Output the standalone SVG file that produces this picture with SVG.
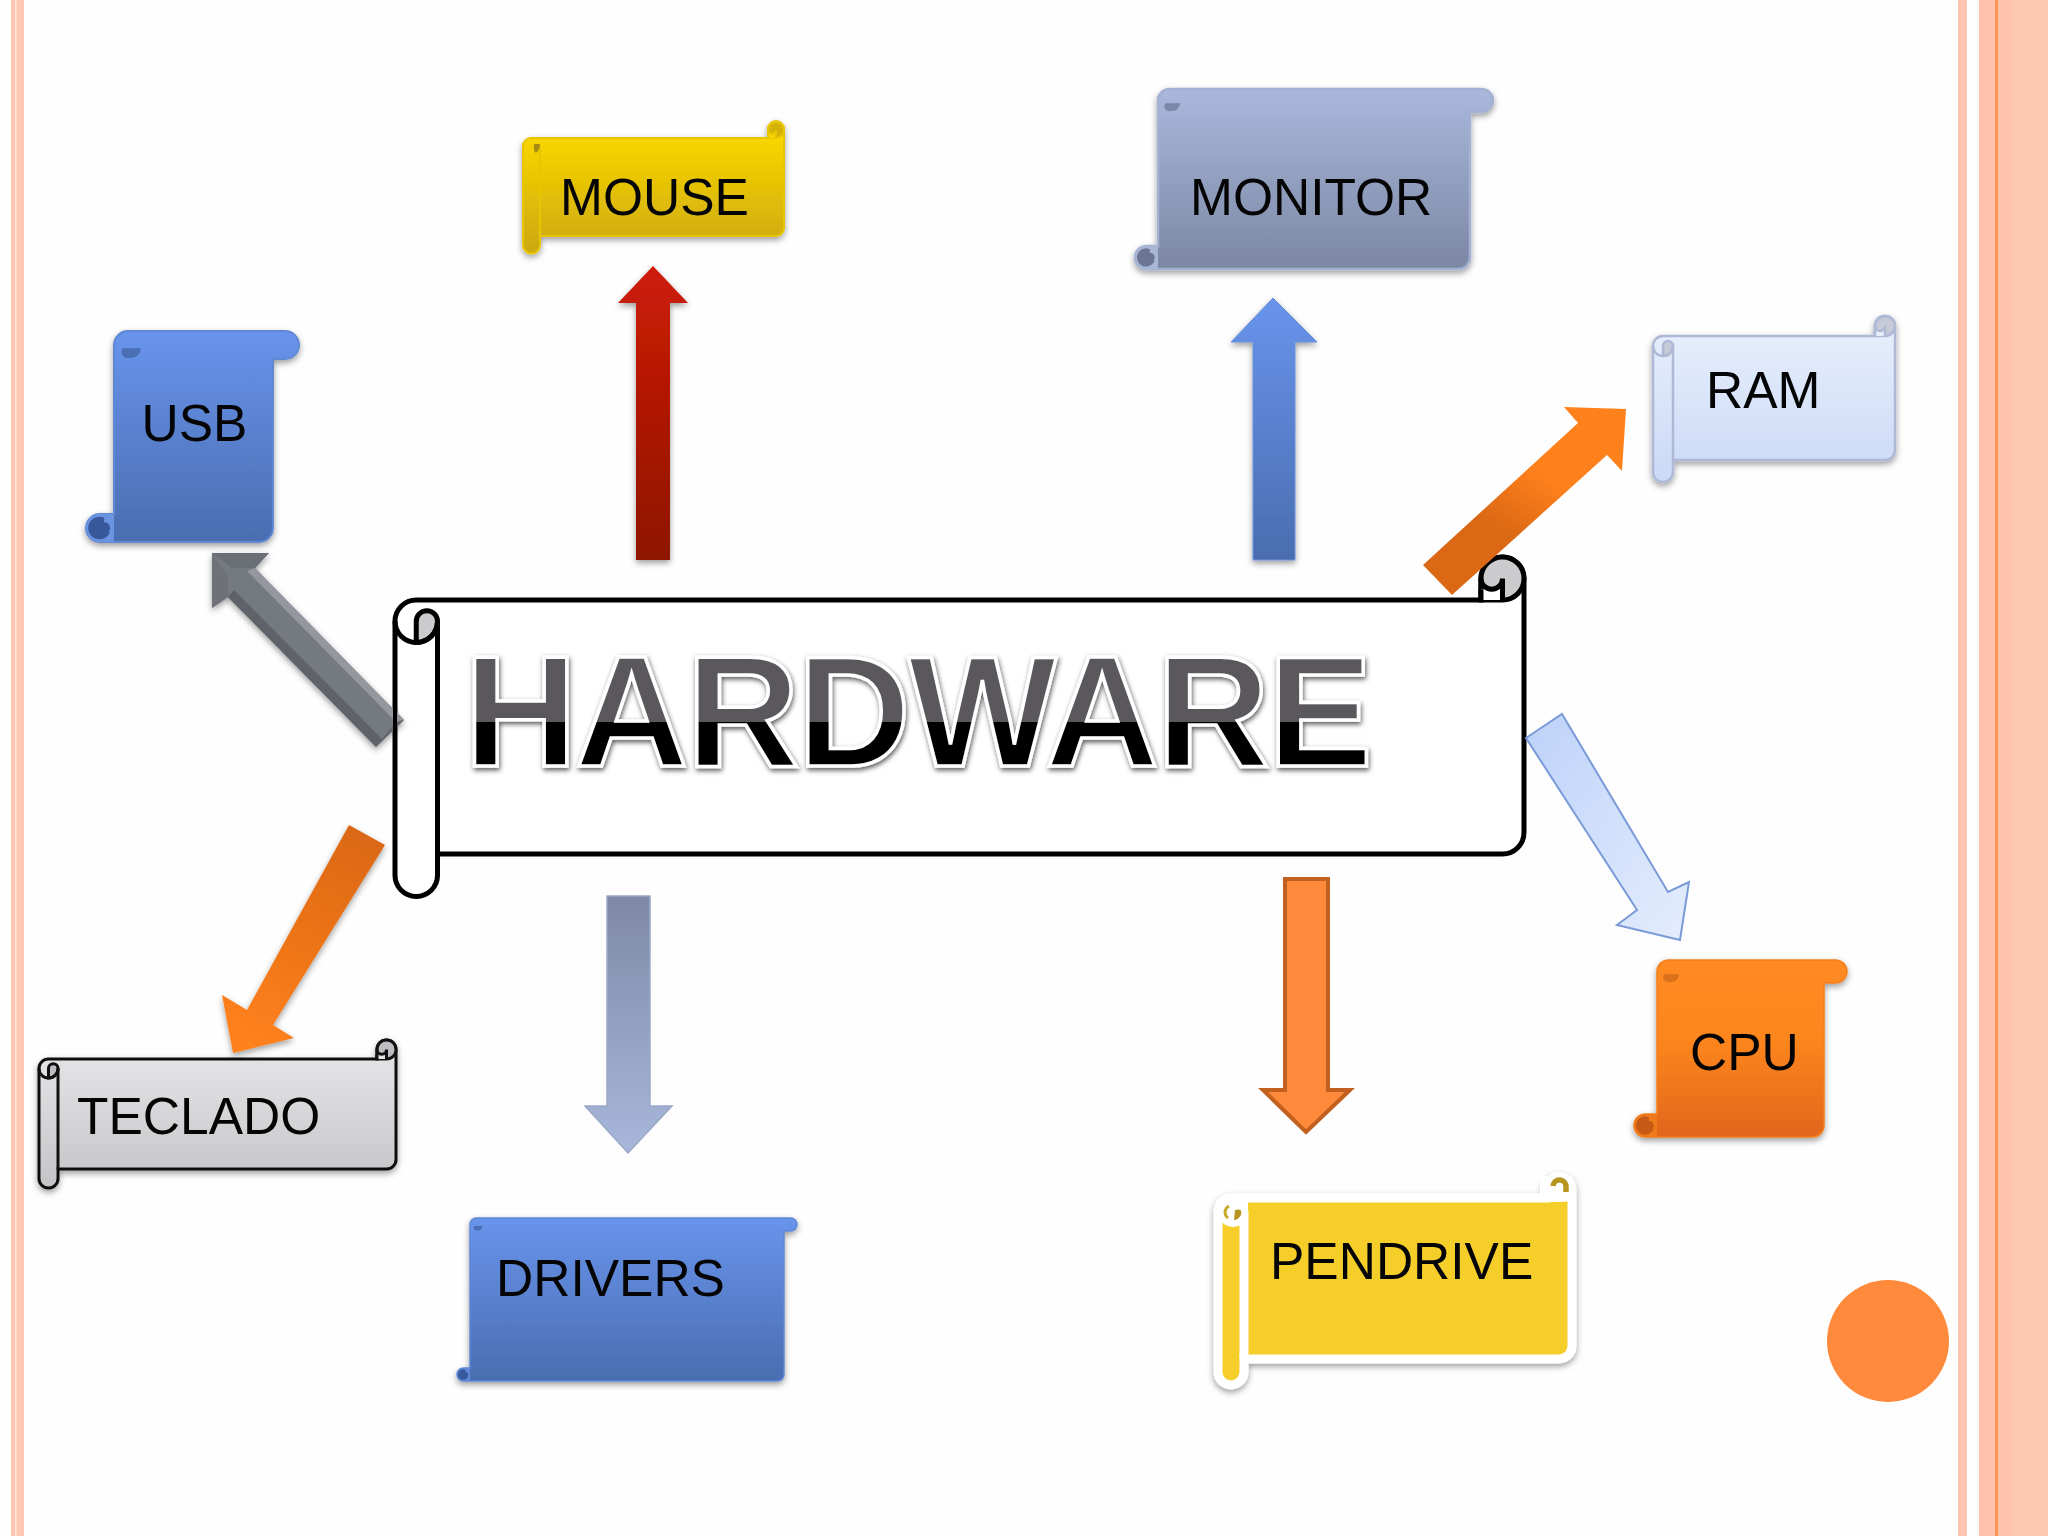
<svg xmlns="http://www.w3.org/2000/svg" width="2048" height="1536" viewBox="0 0 2048 1536">
<style>
.t{font-family:"Liberation Sans",Arial,sans-serif;font-size:51.5px;fill:#050505}
.v{vector-effect:non-scaling-stroke}
.s{filter:url(#sh)}
.lnk{fill:none;vector-effect:non-scaling-stroke}
.blue{stroke:#5F88D6;stroke-width:2}
</style>
<defs>
<filter id="sh" x="-20%" y="-20%" width="140%" height="140%"><feDropShadow dx="0" dy="3" stdDeviation="3" flood-color="#000" flood-opacity=".38"/></filter>
<filter id="tsh" x="-5%" y="-10%" width="110%" height="125%"><feDropShadow dx="1" dy="2.5" stdDeviation="2.5" flood-color="#000" flood-opacity=".65"/></filter>
<linearGradient id="gUsb" x1="0" y1="0" x2="0" y2="1"><stop offset="0" stop-color="#6894EC"/><stop offset="1" stop-color="#4A6DB0"/></linearGradient>
<linearGradient id="gMon" x1="0" y1="0" x2="0" y2="1"><stop offset="0" stop-color="#A9B8DC"/><stop offset="1" stop-color="#7B87A3"/></linearGradient>
<linearGradient id="gCpu" x1="0" y1="0" x2="0" y2="1"><stop offset="0" stop-color="#FF8A20"/><stop offset=".45" stop-color="#FC861F"/><stop offset="1" stop-color="#E2661A"/></linearGradient>
<linearGradient id="gMou" x1="0" y1="0" x2="0" y2="1"><stop offset="0" stop-color="#FFDC00"/><stop offset="1" stop-color="#CBA80C"/></linearGradient>
<linearGradient id="gRam" x1="0" y1="0" x2="0" y2="1"><stop offset="0" stop-color="#E9F0FD"/><stop offset="1" stop-color="#CAD9F6"/></linearGradient>
<linearGradient id="gTec" x1="0" y1="0" x2="0" y2="1"><stop offset="0" stop-color="#E8E7EA"/><stop offset="1" stop-color="#C4C4C7"/></linearGradient>
<linearGradient id="gRed" x1="0" y1="0" x2="0" y2="1"><stop offset="0" stop-color="#CE1C08"/><stop offset="1" stop-color="#8E1400"/></linearGradient>
<linearGradient id="gDrv" x1="0" y1="0" x2="0" y2="1"><stop offset="0" stop-color="#7D89A6"/><stop offset="1" stop-color="#A8B7DA"/></linearGradient>
<linearGradient id="gOrR" gradientUnits="userSpaceOnUse" x1="1540" y1="470" x2="1500" y2="530"><stop offset="0" stop-color="#FF811C"/><stop offset="1" stop-color="#DB6814"/></linearGradient>
<linearGradient id="gOrT" gradientUnits="userSpaceOnUse" x1="350" y1="830" x2="240" y2="1040"><stop offset="0" stop-color="#DB6814"/><stop offset="1" stop-color="#FF811C"/></linearGradient>
<linearGradient id="gCpuA" x1="0" y1="0" x2="1" y2="1"><stop offset="0" stop-color="#BDD2F9"/><stop offset="1" stop-color="#E4EDFD"/></linearGradient>
<linearGradient id="gHw" gradientUnits="userSpaceOnUse" x1="0" y1="650" x2="0" y2="770"><stop offset=".6" stop-color="#5A585C"/><stop offset=".6" stop-color="#000"/></linearGradient>
<g id="curlR">
<path class="v" style="fill:var(--c);stroke:var(--l);stroke-width:var(--w)" d="M-1,-.5A.5,.5 0 0 1 0,-.5A.5,.5 0 0 1 -.5,0H-1Z"/>
<path style="fill:var(--n)" d="M-1,-.25H-.5V0H-1Z"/>
<path class="lnk" style="stroke:var(--l);stroke-width:var(--w)" d="M-.5,0V-.5A.25,.25 0 0 1 -.75,-.25A.25,.25 0 0 1 -1,-.5M-1,-.25V0"/>
</g>
<g id="curlL">
<path class="v" style="fill:var(--c);stroke:var(--l);stroke-width:var(--w)" d="M.5,1V.5A.25,.25 0 0 1 1,.5A.5,.5 0 0 1 .5,1Z"/>
<path class="lnk" style="stroke:var(--l);stroke-width:var(--w)" d="M0,.5A.5,.5 0 0 0 1,.5"/>
</g>
<path id="curlV" d="M.33,.62H.96A.34,.34 0 0 1 .62,.96H.5A.2,.2 0 0 1 .33,.62Z"/>
<g id="curlB">
<circle cx="-.5" cy="-.5" r=".5" style="fill:var(--r)"/>
<path d="M-.5,-1H0V0H-.5Z" style="fill:var(--r)"/>
<circle cx="-.52" cy="-.5" r=".4" style="fill:var(--c)"/>
<path style="fill:var(--r)" d="M-.34,-.95H-.04V-.36H-.2A.2,.2 0 0 0 -.36,-.7Z"/>
</g>
</defs>

<rect width="2048" height="1536" fill="#FEFEFE"/>
<g id="decor">
<rect x="11" y="0" width="13" height="1536" fill="#FFC8B4"/>
<rect x="15" y="0" width="1.5" height="1536" fill="#FFE3D9"/>
<rect x="1958" y="0" width="9" height="1536" fill="#FFC5B1"/>
<rect x="1979" y="0" width="69" height="1536" fill="#FFC2AD"/>
<rect x="2012" y="0" width="36" height="1536" fill="#FFC8B0"/>
<rect x="1995" y="0" width="3" height="1536" fill="#FF9550"/>
<circle cx="1888" cy="1341" r="61" fill="#FF8A3B"/>
</g>

<g id="node-usb" style="--c:#37589A;--r:#6A93E0">
<path class="s blue" fill="url(#gUsb)" d="M128,331H285A14,14 0 0 1 285,359H273V528A14,14 0 0 1 259,542H100A14,14 0 0 1 100,514H114V345A14,14 0 0 1 128,331Z"/>
<use href="#curlV" transform="translate(114,331) scale(28)" fill="#4A6FB5"/>
<use href="#curlB" transform="translate(114,542) scale(28)"/>
<text class="t" x="141.5" y="441">USB</text>
</g>
<g id="node-mouse" style="--c:#D4B20A;--n:#F5D203;--l:#E8C500;--w:2px">
<path class="s" fill="url(#gMou)" stroke="#E8C500" stroke-width="2" d="M530,138H768V129A8,8 0 0 1 784,129V228A8,8 0 0 1 776,236H540V245A8,8 0 0 1 523,245V146A8,8 0 0 1 531,138Z"/>
<path class="lnk" stroke="#E8C500" stroke-width="2" d="M540,146V236"/>
<path d="M534,144H540Q540,150 536,153Q533,151 534,144Z" fill="#A88D10"/>
<use href="#curlR" transform="translate(784,138) scale(16)"/>
<text class="t" x="560" y="215">MOUSE</text>
</g>
<g id="node-monitor" style="--c:#6A7693;--r:#A9B6D6">
<path class="s" fill="url(#gMon)" stroke="#A3B1D3" stroke-width="2.5" d="M1169.5,89H1481.5A11.5,11.5 0 0 1 1481.5,112H1470V257.5A11.5,11.5 0 0 1 1458.5,269H1146.5A11.5,11.5 0 0 1 1146.5,246H1158V100.5A11.5,11.5 0 0 1 1169.5,89Z"/>
<use href="#curlV" transform="translate(1158,89) scale(23)" fill="#7B88A8"/>
<use href="#curlB" transform="translate(1158,269) scale(23)"/>
<text class="t" x="1190" y="215">MONITOR</text>
</g>
<g id="node-ram" style="--c:#C6CAD6;--n:#E6EDFC;--l:#AEB9D6;--w:2.5px">
<path class="s" fill="url(#gRam)" stroke="#AEB9D6" stroke-width="2.5" d="M1663,336H1875V326A10,10 0 0 1 1895,326V450A10,10 0 0 1 1885,460H1673V472A10,10 0 0 1 1653,472V346A10,10 0 0 1 1663,336Z"/>
<path class="lnk" stroke="#AEB9D6" stroke-width="2.5" d="M1673,346V460"/>
<use href="#curlR" transform="translate(1895,336) scale(20)"/>
<use href="#curlL" transform="translate(1653,336) scale(20)"/>
<text class="t" x="1706" y="408">RAM</text>
</g>
<g id="node-hardware" style="--c:#CCCCCE;--n:#fff;--l:#000;--w:5px">
<path fill="#fff" stroke="#000" stroke-width="5" d="M416.25,600H1481V578.5A21.5,21.5 0 0 1 1524,578.5V832.5A21.5,21.5 0 0 1 1502.5,854H437.5V875.25A21.25,21.25 0 0 1 395,875.25V621.25A21.25,21.25 0 0 1 416.25,600Z"/>
<path class="lnk" stroke="#000" stroke-width="5" d="M437.5,621.25V854"/>
<use href="#curlR" transform="translate(1524,600) scale(43)"/>
<use href="#curlL" transform="translate(395,600) scale(42.5)"/>
<text x="464" y="766" font-family="'Liberation Sans',Arial,sans-serif" font-size="157" font-weight="700" letter-spacing="-2.3" fill="url(#gHw)" stroke="#fff" stroke-width="3.5" filter="url(#tsh)">HARDWARE</text>
</g>
<g id="node-teclado" style="--c:#BEBEC2;--n:#E4E3E6;--l:#111;--w:3px">
<path class="s" fill="url(#gTec)" stroke="#111" stroke-width="3" d="M48.5,1059H377V1049.5A9.5,9.5 0 0 1 396,1049.5V1159.5A9.5,9.5 0 0 1 386.5,1169H58V1178.5A9.5,9.5 0 0 1 39,1178.5V1068.5A9.5,9.5 0 0 1 48.5,1059Z"/>
<path class="lnk" stroke="#111" stroke-width="3" d="M58,1068.5V1169"/>
<use href="#curlR" transform="translate(396,1059) scale(19)"/>
<use href="#curlL" transform="translate(39,1059) scale(19)"/>
<text class="t" x="77" y="1134">TECLADO</text>
</g>
<g id="node-drivers" style="--c:#37589A;--r:#5F88D6">
<path class="s" fill="url(#gUsb)" stroke="#5F88D6" stroke-width="1.5" d="M476.5,1218H790.5A6.5,6.5 0 0 1 790.5,1231H784V1374.5A6.5,6.5 0 0 1 777.5,1381H463.5A6.5,6.5 0 0 1 463.5,1368H470V1224.5A6.5,6.5 0 0 1 476.5,1218Z"/>
<use href="#curlV" transform="translate(470,1218) scale(13)" fill="#4A6FB5"/>
<use href="#curlB" transform="translate(470,1381) scale(13)"/>
<text class="t" x="496" y="1296">DRIVERS</text>
</g>
<g id="node-pendrive">
<path class="s" fill="#F6CE2C" stroke="#fff" stroke-width="9" d="M1231,1198H1546V1189.5A13,13 0 0 1 1572,1189.5V1346A13,13 0 0 1 1559,1359H1244V1372A13,13 0 0 1 1218,1372V1211A13,13 0 0 1 1231,1198Z"/>
<path d="M1540,1176H1572V1198Q1572,1202 1560,1202H1540Z" fill="#fff"/>
<path class="lnk" stroke="#B8951F" stroke-width="5.5" d="M1553,1186A6.5,6.5 0 0 1 1566,1187V1192"/>
<path d="M1218,1198H1248V1212A15,15 0 0 1 1218,1212Z" fill="#fff"/>
<path class="lnk" stroke="#fff" stroke-width="9" d="M1244,1211V1359"/>
<path d="M1235,1210Q1243,1208 1241,1215Q1238,1220 1234,1220Z" fill="#B8951F"/>
<path class="lnk" stroke="#C9A92A" stroke-width="3" d="M1228,1218A7,7 0 0 1 1229,1206"/>
<text class="t" x="1270" y="1279">PENDRIVE</text>
</g>
<g id="node-cpu" style="--c:#C65A14;--r:#EE7A1B">
<path class="s" fill="url(#gCpu)" stroke="#F47F1C" stroke-width="1.5" d="M1668.5,960H1835.5A11.5,11.5 0 0 1 1835.5,983H1824V1125.5A11.5,11.5 0 0 1 1812.5,1137H1645.5A11.5,11.5 0 0 1 1645.5,1114H1657V971.5A11.5,11.5 0 0 1 1668.5,960Z"/>
<use href="#curlV" transform="translate(1657,960) scale(23)" fill="#D9701A"/>
<use href="#curlB" transform="translate(1657,1137) scale(23)"/>
<text class="t" x="1690" y="1070">CPU</text>
</g>

<g id="connectors">
<path class="s" fill="url(#gRed)" d="M653,266L688,303H670V560H636V303H618Z"/>
<path class="s" fill="url(#gUsb)" stroke="#6A92DC" stroke-width="1" d="M1273,298L1317,342H1295V560H1253V342H1231Z"/>
<path fill="url(#gOrR)" d="M1626,409L1622,471L1607,455L1452,595L1423,565L1578,423L1564,407Z"/>
<g id="arrow-usb" class="s">
<path fill="#757980" d="M212,553H269L255,568L404,720L376,747L228,597L212,608Z"/>
<path fill="#94979D" d="M255,568L404,720L396,722L247,571Z"/>
<path fill="#5F6269" d="M228,597L376,747L382,739L234,590Z"/>
<path fill="#65686F" d="M404,720L376,747L382,739L396,722Z"/>
<path fill="#6B6E75" d="M212,553H269L255,568H232Z"/>
<path fill="#6E7178" d="M212,553V608L228,597V576Z"/>
</g>
<path class="s" fill="url(#gOrT)" d="M349,825L385,845L273,1025L294,1038L233,1053L222,995L247,1010Z"/>
<path fill="url(#gDrv)" stroke="#9AA8C9" stroke-width="1.5" d="M607,896H650V1106H672L628,1153L585,1106H607Z"/>
<path fill="#FF8A3B" stroke="#C2601F" stroke-width="4" d="M1285,879H1328V1090H1350L1306,1132L1263,1090H1285Z"/>
<path fill="url(#gCpuA)" stroke="#7A9BD8" stroke-width="2" d="M1526,738L1562,714L1668,892L1689,882L1680,940L1617,925L1637,910Z"/>
</g>
<path id="node-hardware-edge" fill="none" stroke="#000" stroke-width="4" d="M395,680V745"/>
</svg>
